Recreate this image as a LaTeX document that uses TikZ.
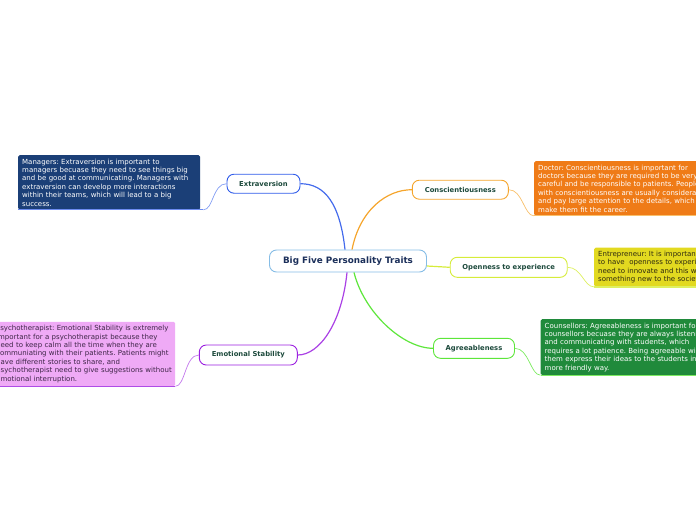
\documentclass[tikz,border=0pt]{standalone}
\usepackage{fontspec}
\setmainfont{DejaVu Sans}
\frenchspacing

\definecolor{bigline}{HTML}{86BDE6}
\definecolor{bigtxt}{HTML}{1B2F5A}
\definecolor{nodetxt}{HTML}{1D4A3C}
\definecolor{extline}{HTML}{2F5BEA}
\definecolor{conline}{HTML}{F5A52C}
\definecolor{opnline}{HTML}{D6EC3A}
\definecolor{agrline}{HTML}{5DE63A}
\definecolor{emoline}{HTML}{9B1FE0}
\definecolor{mgrfill}{HTML}{1B3F77}
\definecolor{docfill}{HTML}{EF7B17}
\definecolor{entfill}{HTML}{E2D920}
\definecolor{coufill}{HTML}{208A3B}
\definecolor{psyfill}{HTML}{EFAAF6}
\definecolor{psytxt}{HTML}{3E2547}
\definecolor{enttxt}{HTML}{2E2A10}

\begin{document}
\begin{tikzpicture}[x=1pt,y=-1pt,
  topic/.style={draw,fill=white,rounded corners=7pt,line width=0.9pt,inner sep=0pt,
    minimum height=19pt,text=nodetxt,font=\fontsize{6.8}{8}\selectfont\bfseries},
  note/.style={anchor=north west,rounded corners=1.5pt,align=left,inner xsep=4pt,
    inner ysep=3.5pt,font=\fontsize{7}{8.4}\selectfont},
  branch/.style={line width=1.2pt},
  twig/.style={line width=0.7pt}]
\useasboundingbox (0,0) rectangle (696,520);
\clip (0,0) rectangle (696,520);

% centre
\node[topic,draw=bigline,minimum width=157pt,minimum height=22pt,text=bigtxt,
  font=\fontsize{8.8}{10}\selectfont\bfseries] (big) at (348,261) {Big Five Personality Traits};

% main topics
\node[topic,draw=extline,minimum width=73pt] (extra) at (263.5,183.7) {Extraversion};
\node[topic,draw=conline,minimum width=96pt] (consc) at (460.3,189.7) {Conscientiousness};
\node[topic,draw=opnline,minimum width=117pt,minimum height=20pt] (open) at (508.7,267.3) {Openness to experience};
\node[topic,draw=agrline,minimum width=81pt,minimum height=20pt] (agree) at (474,348.3) {Agreeableness};
\node[topic,draw=emoline,minimum width=98pt,minimum height=20pt] (emot) at (248.3,355) {Emotional Stability};

% notes
\node[note,fill=mgrfill,text=white,text width=174pt] (mgr) at (18,155)
  {Managers: Extraversion is important to\\ managers becuase they need to see things big\\ and be good at communicating. Managers with\\ extraversion can develop more interactions\\ within their teams, which will lead to a big\\ success.};
\node[note,fill=docfill,text=white,text width=190pt] (doc) at (534,161)
  {Doctor: Conscientiousness is important for\\ doctors because they are required to be very\\ careful and be responsible to patients. People\\ with conscientiousness are usually considerate\\ and pay large attention to the details, which\\ make them fit the career.};
\node[note,fill=entfill,text=enttxt,text width=150pt] (entre) at (594,247.5)
  {Entrepreneur: It is important\\ to have\ \ openness to experience\\ need to innovate and this will\\ something new to the society.};
\node[note,fill=coufill,text=white,text width=190pt] (couns) at (540.5,319)
  {Counsellors: Agreeableness is important for\\ counsellors becuase they are always listening\\ and communicating with students, which\\ requires a lot patience. Being agreeable will\\ them express their ideas to the students in a\\ more friendly way.};
\node[note,fill=psyfill,text=psytxt,text width=176pt,inner xsep=3pt] (psych) at (-7,321.7)
  {Psychotherapist: Emotional Stability is extremely\\ important for a psychotherapist because they\\ need to keep calm all the time when they are\\ communiating with their patients. Patients might\\ have different stories to share, and\\ psychotherapist need to give suggestions without\\ emotional interruption.};

% branches
\draw[branch,extline!90] ([xshift=-3pt]big.north) .. controls +(-5,-45) and +(25,0) .. (extra.east);
\draw[branch,conline] ([xshift=4pt]big.north) .. controls +(8,-40) and +(-25,0) .. (consc.west);
\draw[branch,opnline] ([yshift=-5pt]big.east) -- (open.west);
\draw[branch,agrline] ([xshift=6pt]big.south) .. controls +(10,40) and +(-30,0) .. (agree.west);
\draw[branch,emoline!85] ([xshift=-1pt]big.south) .. controls +(-5,50) and +(22,0) .. (emot.east);

% twigs to the notes
\draw[twig,extline!60] (extra.west) .. controls +(-14,0) and +(10,0) .. ([xshift=3pt]mgr.south east);
\draw[line width=1.3pt,extline!70] (mgr.south west) -- ([xshift=3pt]mgr.south east);
\draw[twig,conline!70] (consc.east) .. controls +(14,0) and +(-10,0) .. (doc.south west);
\draw[line width=1.3pt,conline!70] (doc.south west) -- (doc.south east);
\draw[twig,opnline!80] (open.east) .. controls +(14,0) and +(-10,0) .. (entre.south west);
\draw[line width=1.3pt,opnline!80] (entre.south west) -- (entre.south east);
\draw[twig,agrline!80] (agree.east) .. controls +(14,0) and +(-10,0) .. (couns.south west);
\draw[line width=1.3pt,agrline!80] (couns.south west) -- (couns.south east);
\draw[twig,emoline!60] (emot.west) .. controls +(-14,0) and +(10,0) .. (psych.south east);
\draw[line width=1.3pt,emoline!80] (psych.south west) -- (psych.south east);
\end{tikzpicture}
\end{document}
